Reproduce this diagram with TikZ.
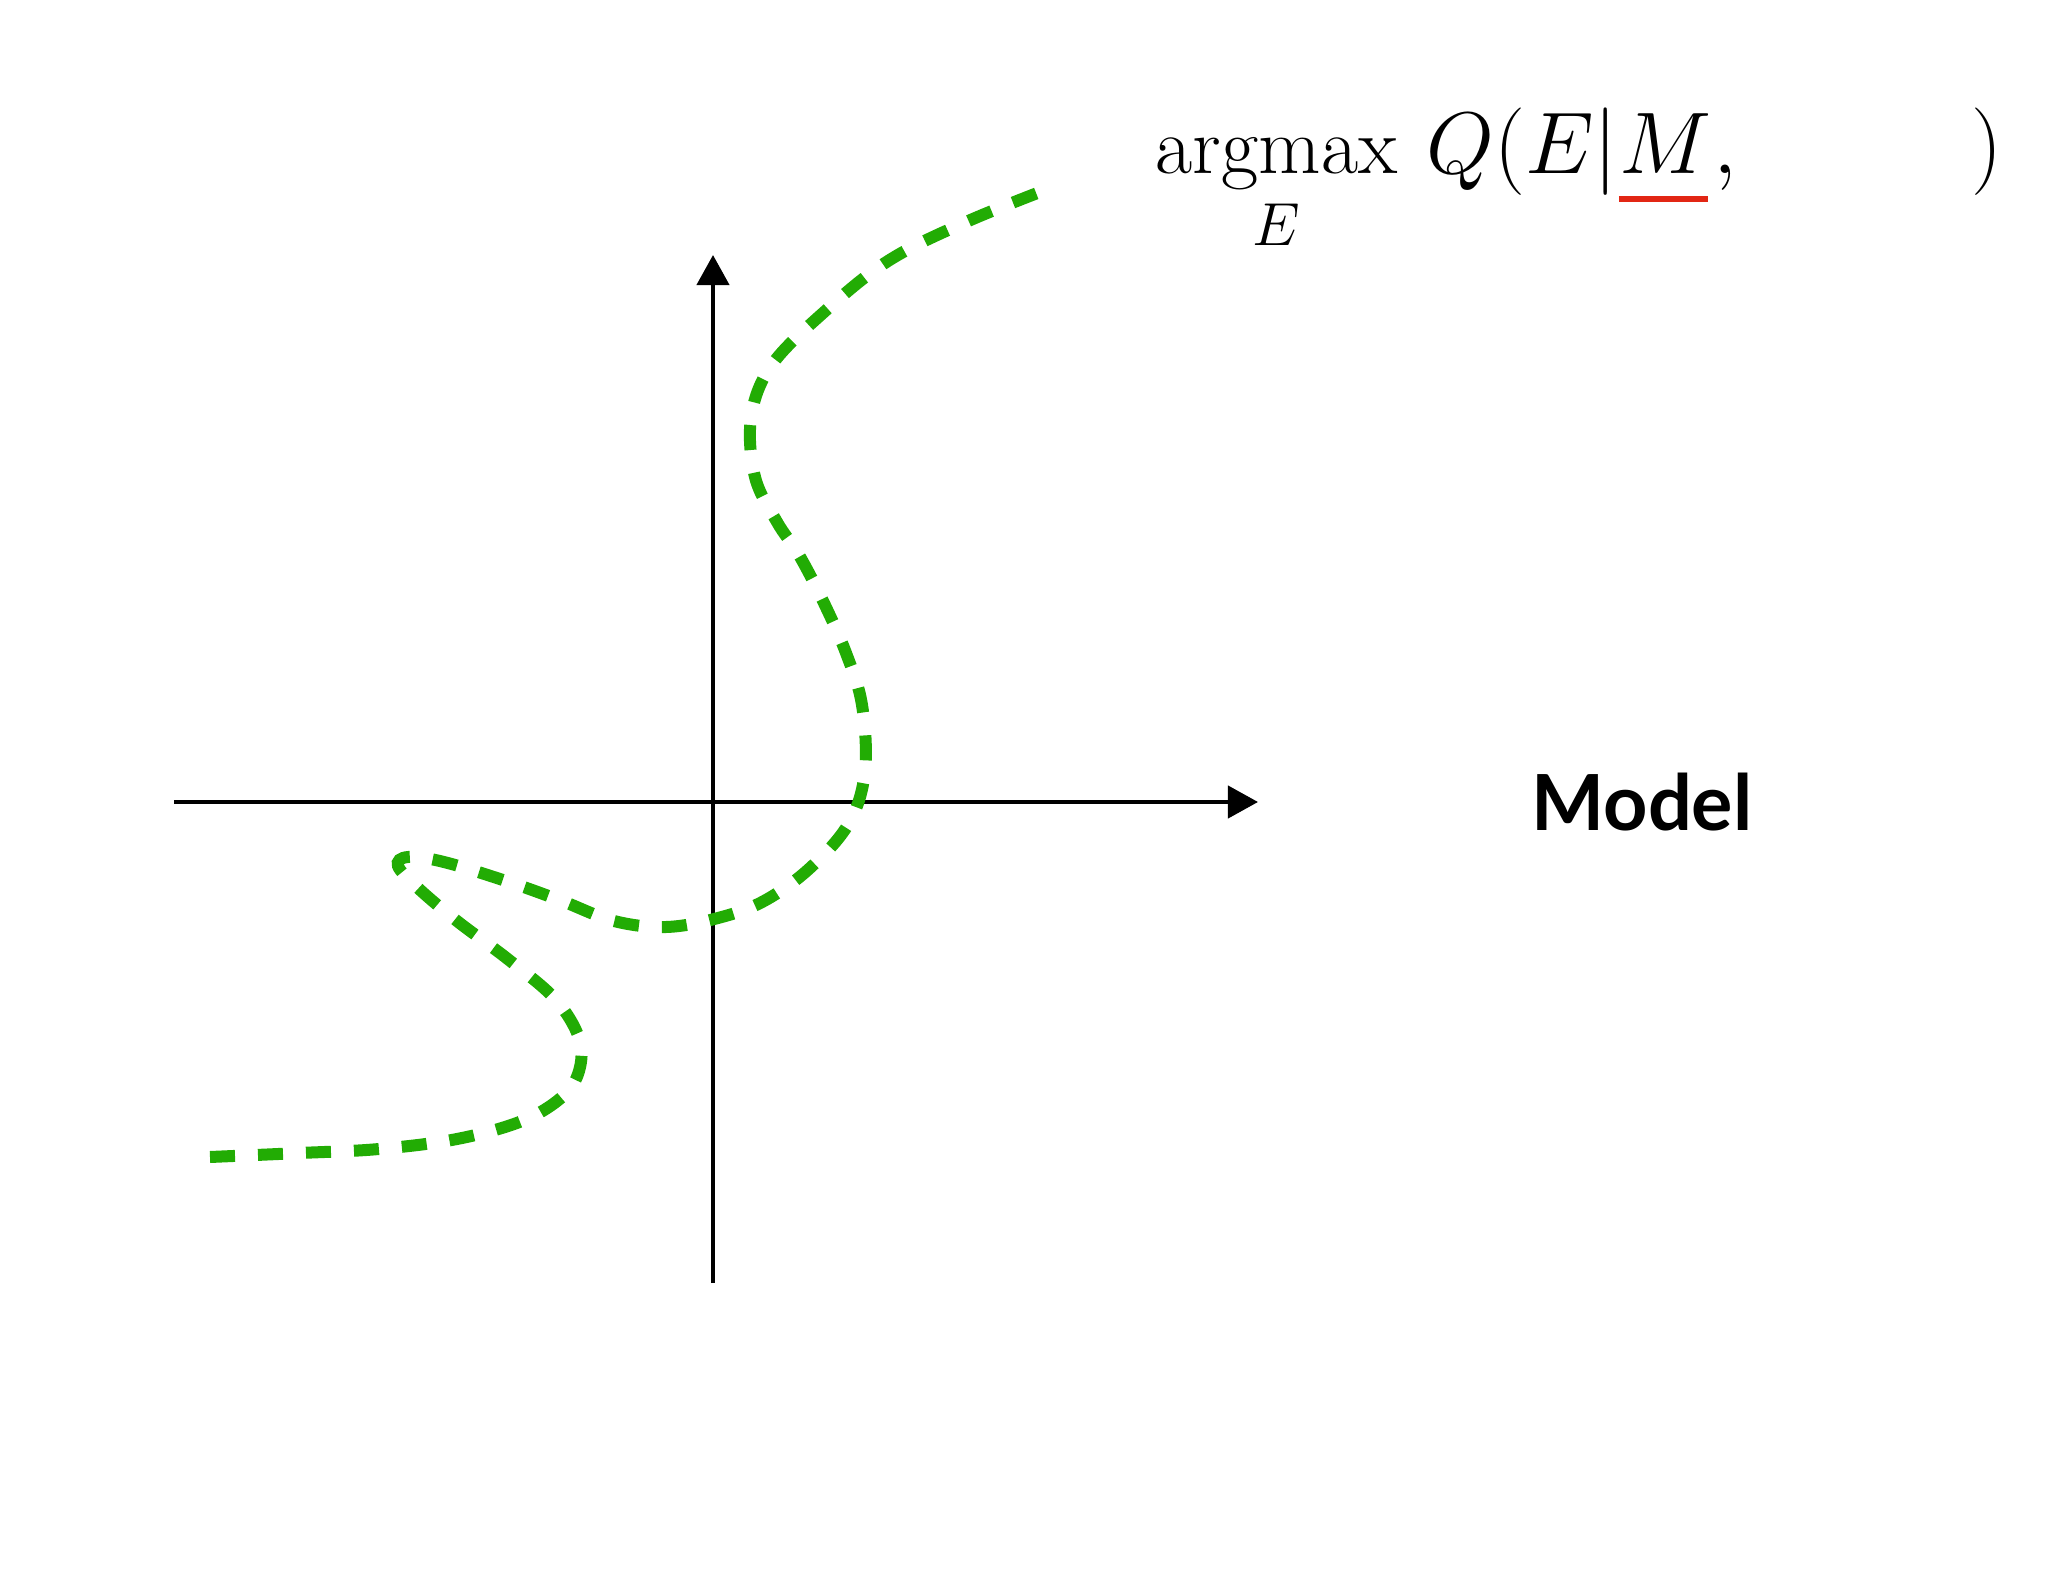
\documentclass[tikz,border=0pt]{standalone}
\usepackage{amsmath,amssymb}
\usepackage{fontspec}
\newfontfamily\modelfont{Lato}[UprightFont=* Bold]
\usetikzlibrary{arrows.meta}
\definecolor{curvegreen}{RGB}{34,172,4}
\definecolor{markred}{RGB}{226,38,20}

\begin{document}
\begin{tikzpicture}[x=0.01cm,y=-0.01cm,>={Triangle[length=0.3cm,width=0.32cm]},
    formula/.style={anchor=base west,inner sep=0pt,font=\fontsize{23}{28}\selectfont}]
  \useasboundingbox (0,0) rectangle (2048,1582);
  % axes
  \coordinate (origin) at (713,802);
  \draw[->,line width=1.2pt] (174,802) -- (1258,802);
  \draw[->,line width=1.2pt] (713,1283) -- (713,255);
  % dashed curve
  \draw[curvegreen,line width=0.12cm,dash pattern=on 0.25cm off 0.23cm]
    plot[smooth,tension=0.6] coordinates {(210,1157) (300,1153) (379,1149)
      (457,1139) (522,1121) (562,1097) (579,1071) (579,1038) (555,999)
      (509,960) (457,921) (418,888) (398,866) (408,857) (444,862) (509,882)
      (562,901) (614,921) (666,927) (718,918) (764,901) (810,868) (849,823)
      (865,771) (862,705) (846,653) (823,601) (799,555) (777,522) (755,477)
      (751,418) (771,366) (823,313) (888,261) (966,222) (1053,187)};
  % objective
  \node[formula] (objective) at (1155,174)
    {$\displaystyle\operatorname*{argmax}_E\,Q(E|\mathstrut$};
  \node[formula] (mvar) at (objective.base east) {$M\mathstrut$};
  \node[formula] (rest) at (mvar.base east) {$,\hspace{2.2cm})\mathstrut$};
  \draw[markred,line width=0.06cm] ([yshift=-0.25cm]mvar.base west) -- ([yshift=-0.25cm,xshift=-0.04cm]mvar.base east);
  % label
  \node[font=\modelfont\fontsize{22}{27}\selectfont] (model) at (1642,802) {Model};
\end{tikzpicture}
\end{document}
